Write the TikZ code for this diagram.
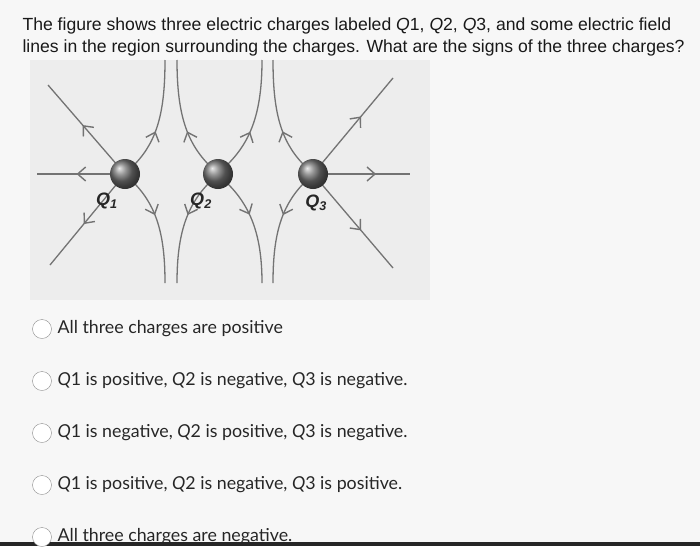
\documentclass[tikz,border=0pt]{standalone}
\usepackage{fontspec}
\setmainfont{Liberation Sans}
\newfontfamily\optfont{Lato}
\usetikzlibrary{decorations.markings,arrows.meta}

\tikzset{
  fline/.style={draw=black!55,line width=1.3pt,postaction={decorate},
    decoration={markings,mark=at position #1 with {\arrow[black!55,line width=1.4pt]{Straight Barb[length=8pt,width=14pt]}}}},
  fline/.default=0.5,
  charge/.style={circle,minimum size=30pt,inner sep=0pt,shading=ball,ball color=black!55},
  qlabel/.style={font=\bfseries\itshape\fontsize{18}{18}\selectfont,text=black!85},
  option/.style={anchor=west,font=\optfont\fontsize{17.8}{19}\selectfont,text=black!85},
  radio/.style={circle,draw=black!45,fill=white,minimum size=19pt,inner sep=0pt}
}

\begin{document}
\begin{tikzpicture}[x=1pt,y=-1pt]
  \useasboundingbox (0,0) rectangle (700,546);
  \fill[black!3] (0,0) rectangle (700,546);
  \fill[black!7] (30,60) rectangle (430,300);
  \fill[black!85] (0,542) rectangle (700,546);

  % question
  \node[anchor=north west,align=left,font=\fontsize{17.6}{22}\selectfont,text=black!90] (question) at (19,14)
    {The figure shows three electric charges labeled \textit{Q}1, \textit{Q}2, \textit{Q}3, and some electric field\\
     lines in the region surrounding the charges. What are the signs of the three charges?};

  % end points of field lines
  \coordinate (e1l) at (37,174);  \coordinate (e1ul) at (48,85);   \coordinate (e1dl) at (50,265);
  \coordinate (e1u) at (165,60);  \coordinate (e1d) at (165,283);
  \coordinate (e2ul) at (177,60); \coordinate (e2ur) at (262,60);
  \coordinate (e2dl) at (177,283);\coordinate (e2dr) at (262,283);
  \coordinate (e3u) at (273,60);  \coordinate (e3d) at (273,283);
  \coordinate (e3ur) at (393,78); \coordinate (e3r) at (410,174);  \coordinate (e3dr) at (393,268);

  % Q1
  \draw[fline=0.55] (125,174) -- (e1l);
  \draw[fline=0.55] (125,174) -- (e1ul);
  \draw[fline=0.55] (125,174) -- (e1dl);
  \draw[fline=0.35] (135,164) .. controls (158,140) and (165,110) .. (e1u);
  \draw[fline=0.35] (135,184) .. controls (158,208) and (165,238) .. (e1d);
  % Q2
  \draw[fline=0.35] (208,164) .. controls (185,140) and (177,110) .. (e2ul);
  \draw[fline=0.35] (228,164) .. controls (252,140) and (262,110) .. (e2ur);
  \draw[fline=0.35] (208,184) .. controls (185,208) and (177,238) .. (e2dl);
  \draw[fline=0.35] (228,184) .. controls (252,208) and (262,238) .. (e2dr);
  % Q3
  \draw[fline=0.35] (303,164) .. controls (280,140) and (273,110) .. (e3u);
  \draw[fline=0.35] (303,184) .. controls (280,208) and (273,238) .. (e3d);
  \draw[fline=0.6] (313,174) -- (e3ur);
  \draw[fline=0.65] (313,174) -- (e3r);
  \draw[fline=0.6] (313,174) -- (e3dr);

  \node[charge] (q1) at (125,174) {};
  \node[charge] (q2) at (218,174) {};
  \node[charge] (q3) at (313,174) {};
  \node[qlabel] (l1) at (107,201) {\textit{Q}\textsubscript{1}};
  \node[qlabel] (l2) at (201,201) {\textit{Q}\textsubscript{2}};
  \node[qlabel] (l3) at (316,203) {\textit{Q}\textsubscript{3}};

  % answers
  \foreach \y/\txt [count=\i] in {
      329/{All three charges are positive},
      381/{\textit{Q}1 is positive, \textit{Q}2 is negative, \textit{Q}3 is negative.},
      433/{\textit{Q}1 is negative, \textit{Q}2 is positive, \textit{Q}3 is negative.},
      485/{\textit{Q}1 is positive, \textit{Q}2 is negative, \textit{Q}3 is positive.},
      537/{All three charges are negative.}}{
    \node[radio] (r\i) at (42,\y) {};
    \node[option] (o\i) at (54,\y) {\txt};
  }
\end{tikzpicture}
\end{document}
